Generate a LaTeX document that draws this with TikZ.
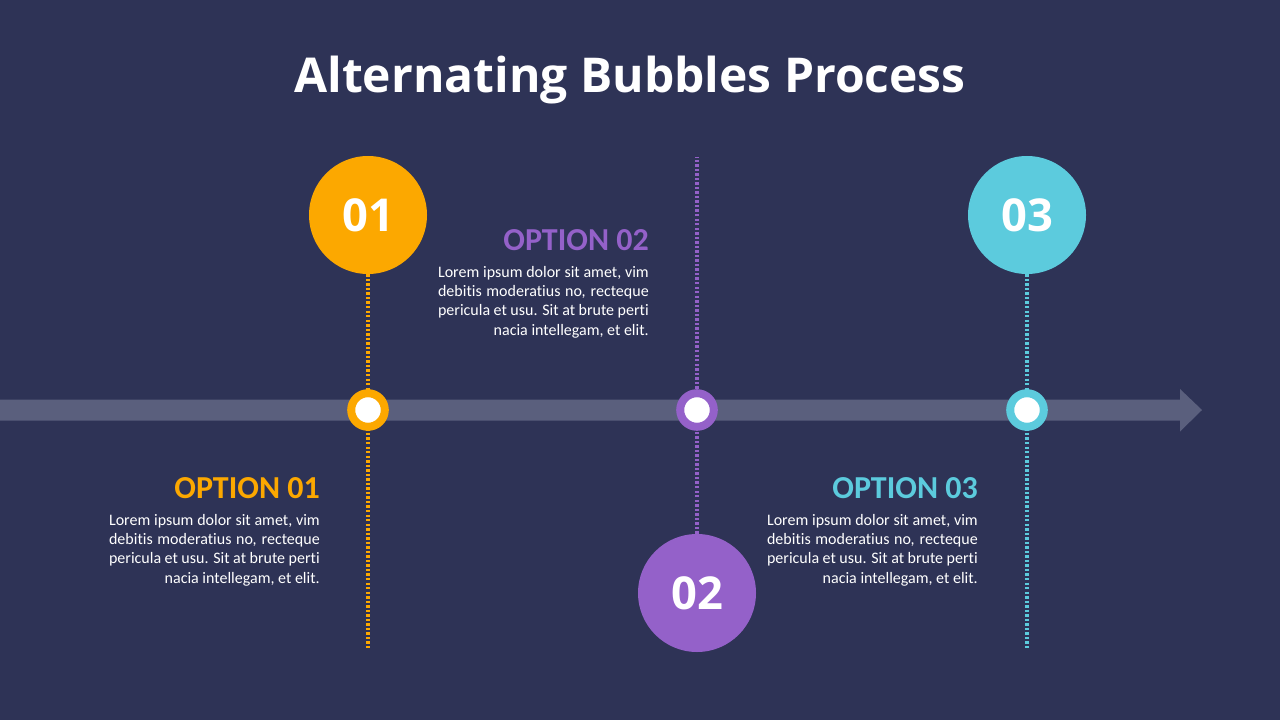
\documentclass[tikz,border=0pt]{standalone}
\usepackage{fontspec}
\setmainfont{Carlito}[Ligatures=NoCommon]
\newfontfamily\headfont{Open Sans}
\definecolor{bgnavy}{HTML}{2E3356}
\definecolor{barnavy}{HTML}{5A5F7D}
\definecolor{optorange}{HTML}{FCA800}
\definecolor{optpurple}{HTML}{9461C9}
\definecolor{optcyan}{HTML}{5CCBDD}
\tikzset{
  bubble/.style={circle, fill=#1, text=white, minimum size=88.5pt, inner sep=0pt,
    font=\headfont\bfseries\fontsize{34}{40}\selectfont},
  ring/.style={circle, fill=white, draw=#1, line width=6pt, minimum size=25.2pt, inner sep=0pt},
  guide/.style={#1, line width=2.3pt, dash pattern=on 1.8pt off 1.6pt},
  optitle/.style={text=#1, anchor=base east, inner sep=0pt, font=\bfseries\fontsize{24}{29}\selectfont},
  optbody/.style={text=white, anchor=base east, inner sep=0pt, text width=158pt, align=justify,
    font=\fontsize{12}{14.5}\selectfont}
}
\begin{document}
\begin{tikzpicture}[x=0.75pt,y=-0.75pt]
\fill[bgnavy] (0,0) rectangle (1280,720);
\useasboundingbox (0,0) rectangle (1280,720);
% timeline arrow
\fill[barnavy] (0,399.5) -- (1180,399.5) -- (1180,389) -- (1202,410) -- (1180,431.5) -- (1180,420.5) -- (0,420.5) -- cycle;

\node [text=white, anchor=base, font=\headfont\bfseries\fontsize{36}{43}\selectfont] (title) at (630,92.7) {Alternating Bubbles Process};

\node [bubble=optorange] (bub1) at (368,215) {01};
\node [bubble=optpurple] (bub2) at (697,593) {02};
\node [bubble=optcyan] (bub3) at (1027,215) {03};

\coordinate (end1) at (368,650);
\coordinate (end2) at (697,157);
\coordinate (end3) at (1027,650);
\draw [guide=optorange] (bub1) -- (end1);
\draw [guide=optpurple] (bub2) -- (end2);
\draw [guide=optcyan] (bub3) -- (end3);

\node [ring=optorange] (dot1) at (368,410) {};
\node [ring=optpurple] (dot2) at (697,410) {};
\node [ring=optcyan] (dot3) at (1027,410) {};

\node [optitle=optorange] (head1) at (320,498.5) {OPTION 01};
\node [optitle=optpurple] (head2) at (649,250.5) {OPTION 02};
\node [optitle=optcyan] (head3) at (978,498.5) {OPTION 03};

\node [optbody] (body1) at (320,525.3) {Lorem ipsum dolor sit amet, vim\linebreak debitis moderatius no, recteque\linebreak pericula et usu. Sit at brute perti\linebreak\hspace*{\fill}nacia intellegam, et elit.};
\node [optbody] (body2) at (649,277.3) {Lorem ipsum dolor sit amet, vim\linebreak debitis moderatius no, recteque\linebreak pericula et usu. Sit at brute perti\linebreak\hspace*{\fill}nacia intellegam, et elit.};
\node [optbody] (body3) at (978,525.3) {Lorem ipsum dolor sit amet, vim\linebreak debitis moderatius no, recteque\linebreak pericula et usu. Sit at brute perti\linebreak\hspace*{\fill}nacia intellegam, et elit.};
\end{tikzpicture}
\end{document}
